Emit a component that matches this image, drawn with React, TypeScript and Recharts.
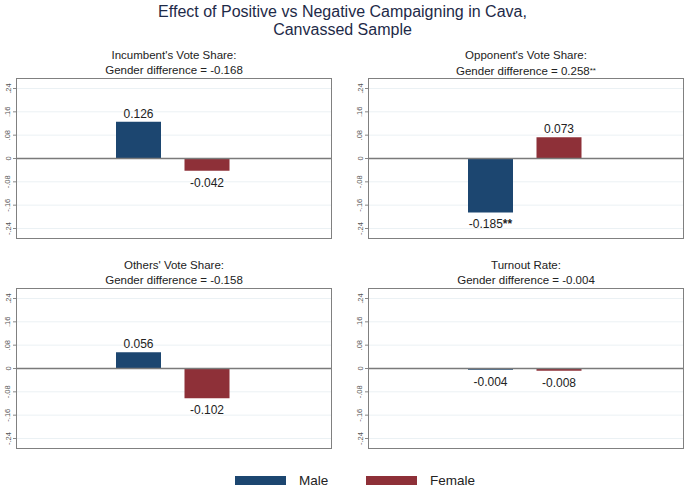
import React from "react";
import {
  Bar,
  BarChart,
  CartesianGrid,
  Cell,
  LabelList,
  ReferenceLine,
  XAxis,
  YAxis,
} from "recharts";

const groups = ["Male", "Female"];
const panelTitles = [
  "Incumbent's Vote Share:",
  "Opponent's Vote Share:",
  "Others' Vote Share:",
  "Turnout Rate:",
];
const genderDiffs = ["-0.168", "0.258", "-0.158", "-0.004"];
const diffStars = ["", "**", "", ""];
const maleValues = [0.126, -0.185, 0.056, -0.004];
const femaleValues = [-0.042, 0.073, -0.102, -0.008];
const maleStars = ["", "**", "", ""];
const femaleStars = ["", "", "", ""];
const yTicks = [-0.24, -0.16, -0.08, 0, 0.08, 0.16, 0.24];

const COLORS = ["#1c4670", "#8e3038"];
const FONT = '"Liberation Sans", Arial, Helvetica, sans-serif';

// plot-area boxes for the four panels (page coords)
const PLOT_W = 316;
const PLOT_H = 161;
const AXIS_W = 18;
const panelPos = [
  { left: 16, top: 78 },
  { left: 368, top: 78 },
  { left: 16, top: 288 },
  { left: 368, top: 288 },
];

const fmtTick = (v: number) =>
  v === 0 ? "0" : (v < 0 ? "-" : "") + Math.abs(v).toFixed(2).replace(/^0/, "");

function RotatedTick({ x, y, payload }: any) {
  const cx = x - 3;
  return (
    <text
      x={cx}
      y={y}
      transform={`rotate(-90 ${cx} ${y})`}
      textAnchor="middle"
      dominantBaseline="central"
      fontSize={7.5}
      fill="#555"
      fontFamily={FONT}
    >
      {fmtTick(payload.value)}
    </text>
  );
}

function BarValueLabel(props: any) {
  const { x, y, width, height, value, index, stars } = props;
  const top = Math.min(y, y + height);
  const bottom = Math.max(y, y + height);
  const ty = value >= 0 ? top - 4 : bottom + 16;
  const s = stars[index];
  return (
    <text
      x={x + width / 2}
      y={ty}
      textAnchor="middle"
      fontSize={12}
      fill="#222"
      fontFamily={FONT}
    >
      {value.toFixed(3)}
      {s && <tspan fontWeight="bold">{s}</tspan>}
    </text>
  );
}

function Panel({ i }: { i: number }) {
  const pos = panelPos[i];
  const data = groups.map((g, k) => ({
    group: g,
    value: k === 0 ? maleValues[i] : femaleValues[i],
  }));
  const stars = [maleStars[i], femaleStars[i]];
  return (
    <>
      <div
        style={{
          position: "absolute",
          left: pos.left,
          top: pos.top - 30,
          width: PLOT_W,
          textAlign: "center",
          fontSize: 11.5,
          lineHeight: "15px",
          color: "#222",
          fontFamily: FONT,
        }}
      >
        {panelTitles[i]}
        <br />
        Gender difference = {genderDiffs[i]}
        {diffStars[i] && <span style={{ fontSize: 8, verticalAlign: 2 }}>{diffStars[i]}</span>}
      </div>
      <div style={{ position: "absolute", left: pos.left - AXIS_W, top: pos.top }}>
        <BarChart
          width={PLOT_W + AXIS_W}
          height={PLOT_H}
          data={data}
          margin={{ top: 0, right: 0, bottom: 0, left: 0 }}
        >
          <CartesianGrid vertical={false} stroke="#ebf1f4" />
          <XAxis
            dataKey="group"
            height={0}
            tick={false}
            tickLine={false}
            axisLine={false}
            padding={{ left: 88, right: 91 }}
          />
          <YAxis
            width={AXIS_W}
            domain={[-0.276, 0.276]}
            ticks={yTicks}
            tick={<RotatedTick />}
            tickSize={3}
            tickMargin={2}
            axisLine={false}
            tickLine={{ stroke: "#888" }}
            interval={0}
          />
          <ReferenceLine y={0} stroke="#7a7a7a" strokeWidth={1.5} />
          <Bar dataKey="value" barSize={45} isAnimationActive={false}>
            {data.map((d, k) => (
              <Cell key={d.group} fill={COLORS[k]} />
            ))}
            <LabelList dataKey="value" content={<BarValueLabel stars={stars} />} />
          </Bar>
        </BarChart>
      </div>
      <div
        style={{
          position: "absolute",
          left: pos.left,
          top: pos.top,
          width: PLOT_W,
          height: PLOT_H,
          boxSizing: "border-box",
          border: "1px solid #808080",
          pointerEvents: "none",
        }}
      />
    </>
  );
}

export default function App() {
  return (
    <div
      style={{
        position: "absolute",
        left: 0,
        top: 0,
        width: 685,
        height: 492,
        background: "#fff",
        fontFamily: FONT,
      }}
    >
      <div
        style={{
          position: "absolute",
          left: 0,
          top: 3,
          width: 685,
          textAlign: "center",
          fontSize: 16,
          lineHeight: "18px",
          color: "#1e2a48",
        }}
      >
        Effect of Positive vs Negative Campaigning in Cava,
        <br />
        Canvassed Sample
      </div>
      {[0, 1, 2, 3].map((i) => (
        <Panel key={i} i={i} />
      ))}
      {groups.map((g, k) => (
        <div
          key={g}
          style={{
            position: "absolute",
            left: k === 0 ? 235 : 366,
            top: 473,
            display: "flex",
            alignItems: "center",
            fontSize: 13.5,
            color: "#222",
          }}
        >
          <span
            style={{
              display: "inline-block",
              width: 51,
              height: 9,
              background: COLORS[k],
              marginRight: 13,
            }}
          />
          {g}
        </div>
      ))}
    </div>
  );
}
